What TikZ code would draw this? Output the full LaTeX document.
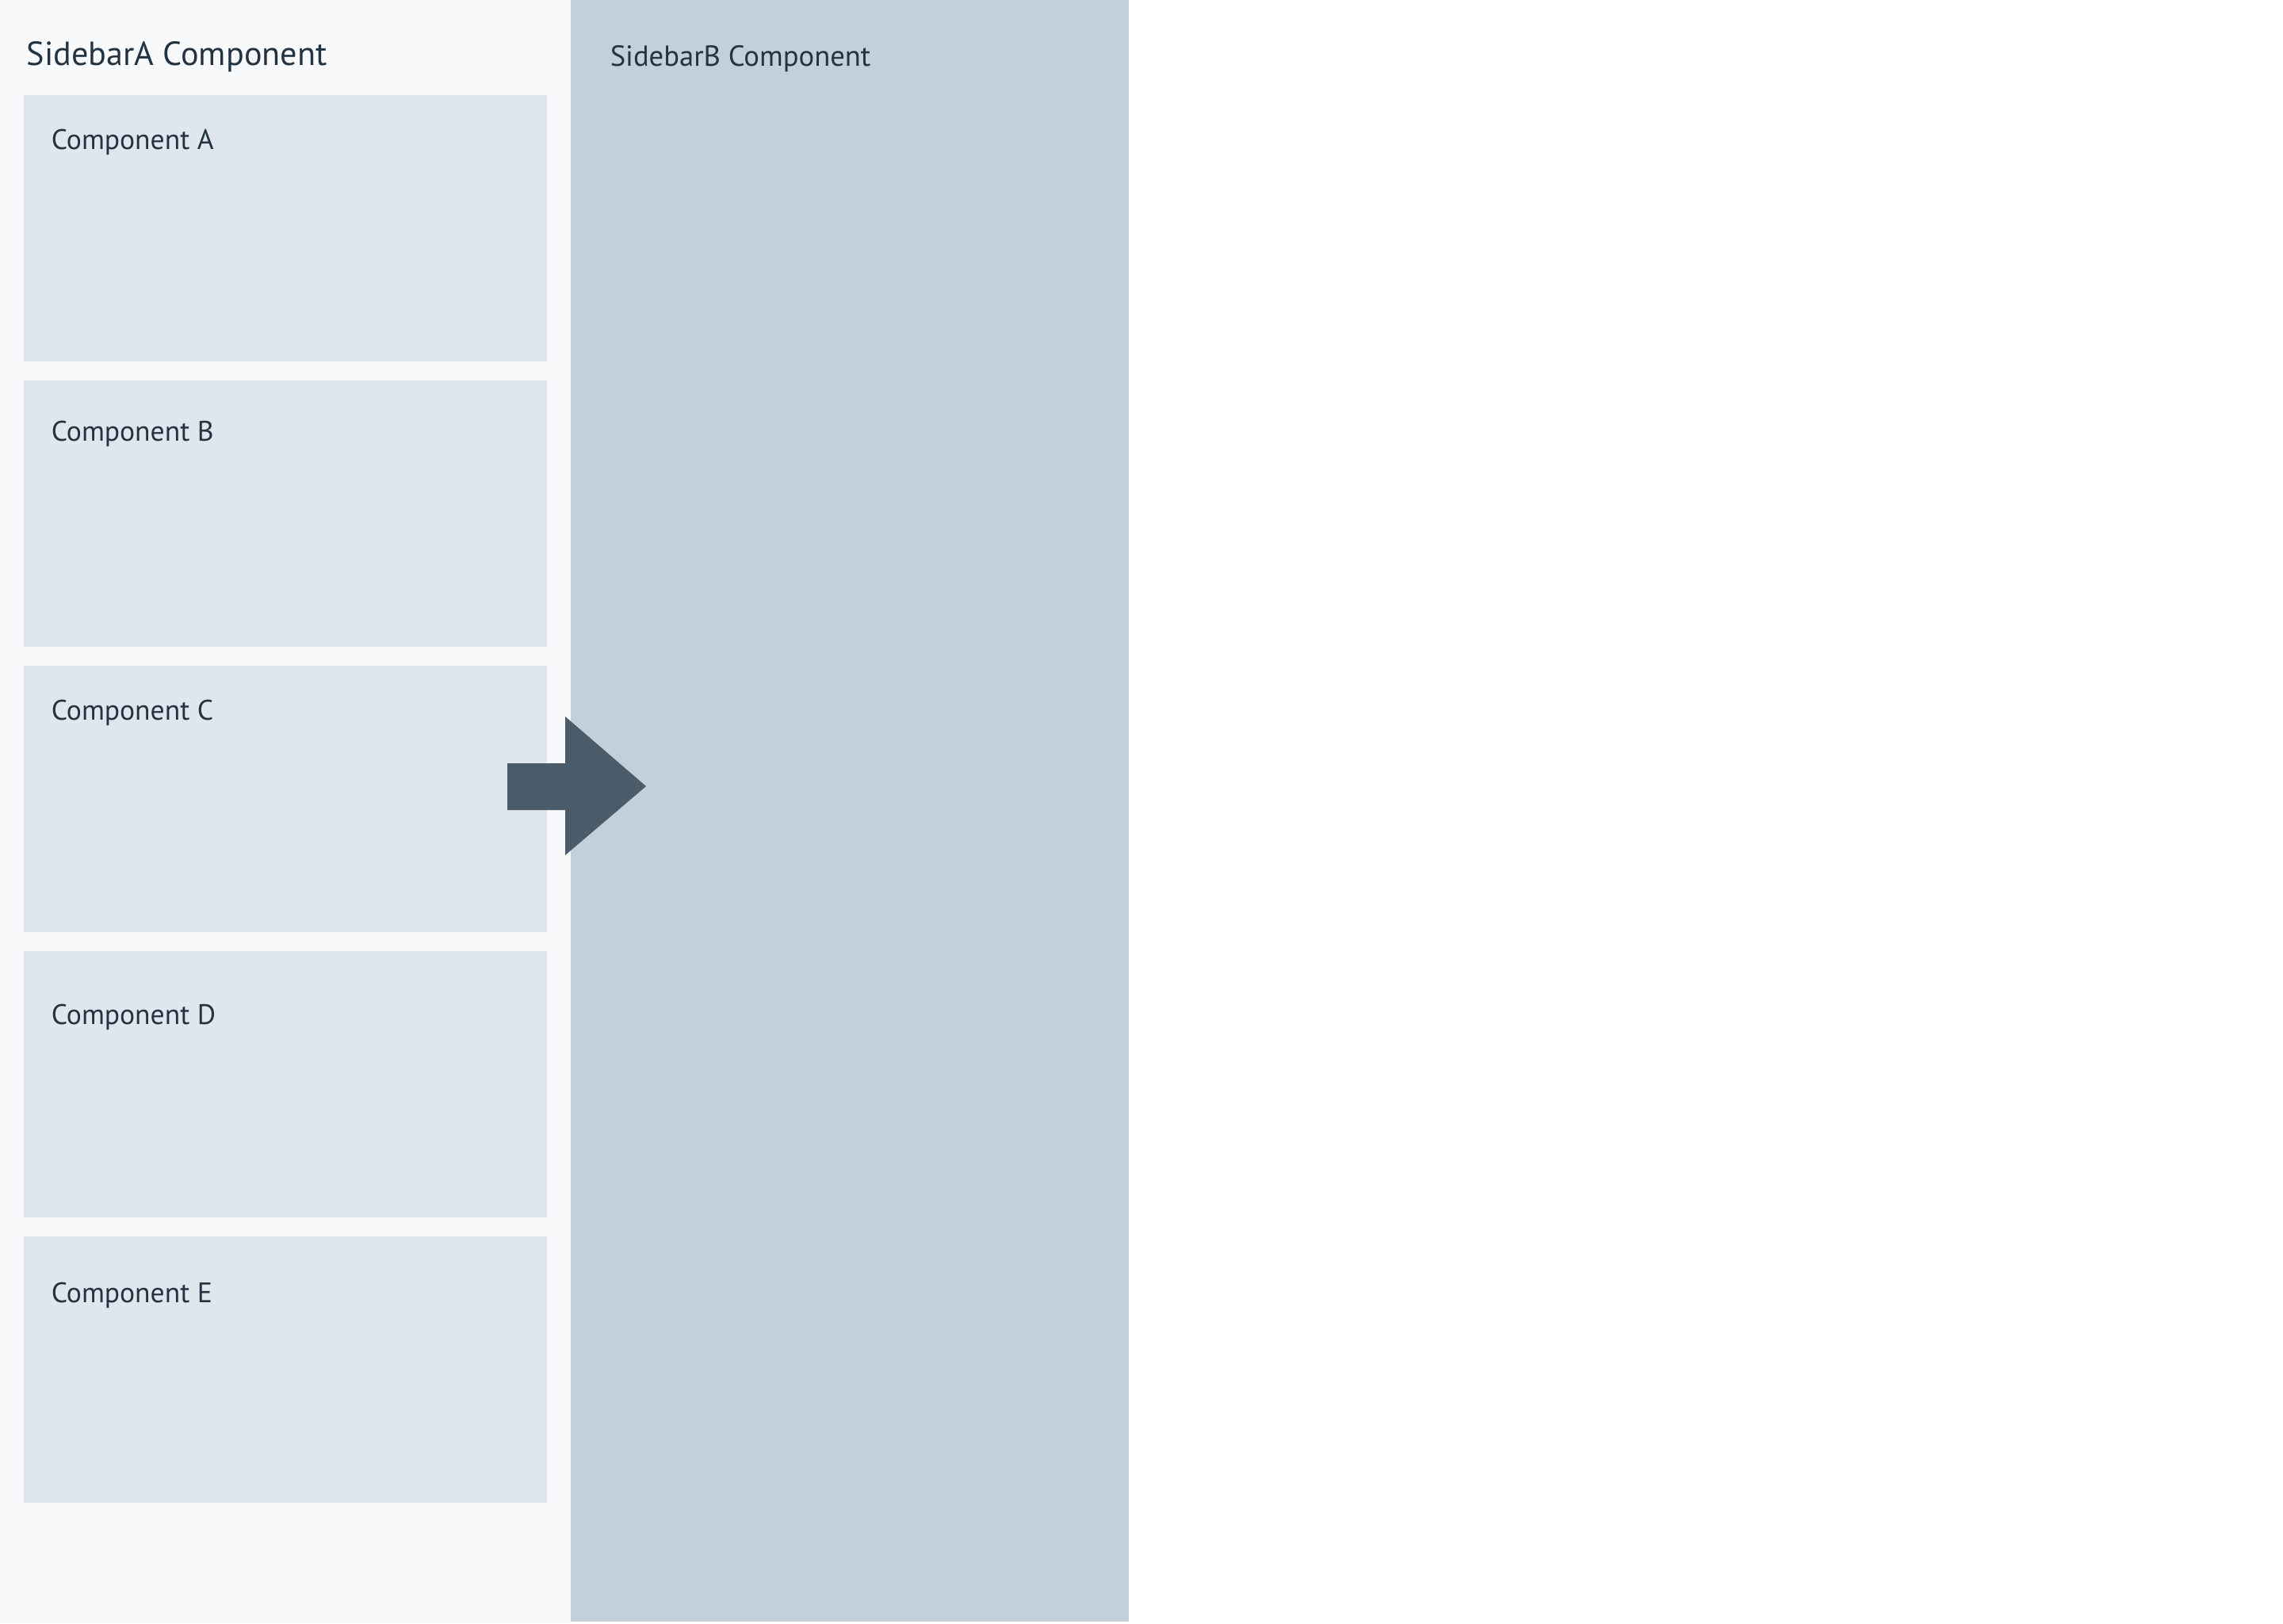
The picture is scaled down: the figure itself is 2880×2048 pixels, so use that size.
\documentclass[tikz,border=0pt]{standalone}
\usepackage{fontspec}
\setmainfont{PT Sans}
\definecolor{sideA}{HTML}{F8F9FB}
\definecolor{boxc}{HTML}{DFE6EE}
\definecolor{sideB}{HTML}{C3CFD9}
\definecolor{arrowc}{HTML}{4A5B6A}
\definecolor{txt}{HTML}{233341}
\tikzset{
  px/.style={x=0.25pt,y=-0.25pt},
  panel/.style={fill=#1,draw=none},
  comptext/.style={anchor=base west,inner sep=0pt,text=txt,font=\fontsize{8.9}{11}\selectfont},
  titletext/.style={anchor=base west,inner sep=0pt,text=txt,font=\fontsize{10.55}{12}\selectfont},
  btext/.style={anchor=base west,inner sep=0pt,text=txt,font=\fontsize{9.15}{11}\selectfont},
}
\begin{document}
\begin{tikzpicture}[px]
\useasboundingbox (0,0) rectangle (2880,2048);
\fill[white] (0,0) rectangle (2880,2048);
% sidebar A
\fill[panel=sideA] (0,0) rectangle (720,2048);
\node[titletext] (titleA) at (33,82) {SidebarA Component};
% component boxes
\fill[panel=boxc] (30,120) rectangle (690,456);
\fill[panel=boxc] (30,480) rectangle (690,816);
\fill[panel=boxc] (30,840) rectangle (690,1176);
\fill[panel=boxc] (30,1200) rectangle (690,1536);
\fill[panel=boxc] (30,1560) rectangle (690,1896);
\node[comptext] (ca) at (64,188) {Component A};
\node[comptext] (cb) at (64,556) {Component B};
\node[comptext] (cc) at (64,908) {Component C};
\node[comptext] (cd) at (64,1292) {Component D};
\node[comptext] (ce) at (64,1643) {Component E};
% sidebar B
\fill[panel=sideB] (720,0) rectangle (1424,2046);
\node[btext] (titleB) at (769,83) {SidebarB Component};
% arrow
\fill[arrowc] (640,963) -- (713,963) -- (713,904) -- (815,992) -- (713,1079) -- (713,1022) -- (640,1022) -- cycle;
\end{tikzpicture}
\end{document}
